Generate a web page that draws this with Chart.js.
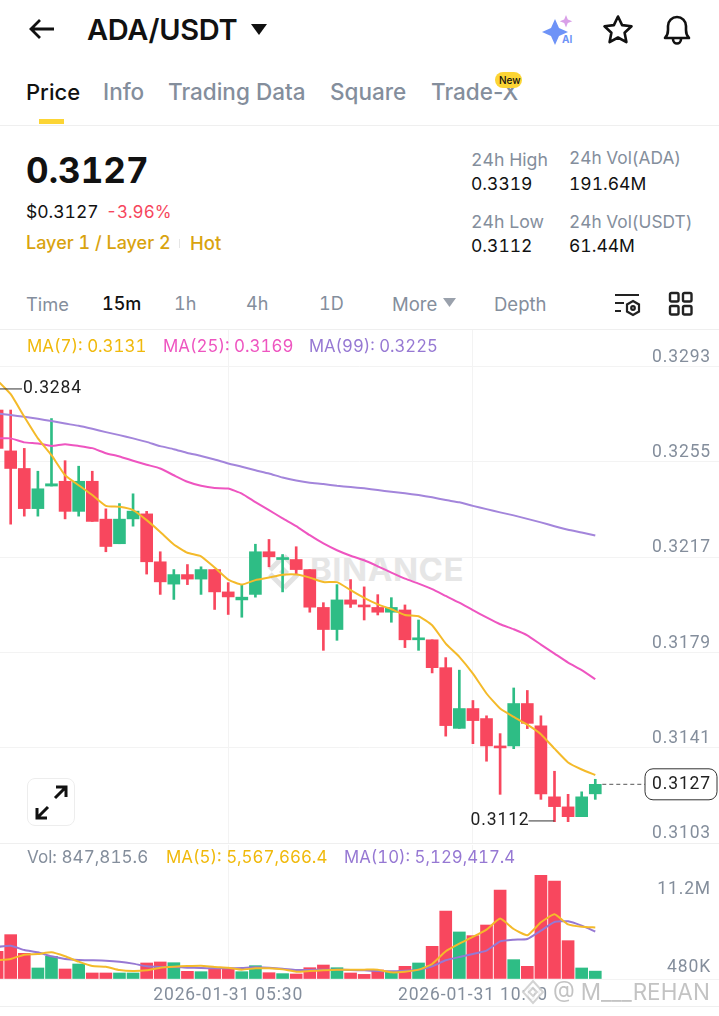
<!DOCTYPE html>
<html><head><meta charset="utf-8"><title>ADA/USDT</title>
<script src="https://cdn.jsdelivr.net/npm/chart.js@4"></script>
<style>
html,body{margin:0;padding:0;background:#fff;width:719px;height:1016px;overflow:hidden;font-family:Inter,"Noto Sans",sans-serif;font-variant-numeric:tabular-nums}
.t{position:absolute;white-space:nowrap;line-height:1;transform:translateY(-50%)}
.g{color:#848E9C}.k{color:#111}.y{color:#F0B90B}.p{color:#EE55C0}.v{color:#9678D3}
.rule{position:absolute;left:0;width:719px;height:1px;background:#EFEFEF}
canvas{display:block}
.cv{position:absolute;left:0}
svg{position:absolute}
</style></head><body>
<svg style="left:26px;top:14px" width="32" height="30" viewBox="0 0 32 30" fill="none" stroke="#111" stroke-width="2.8"><path d="M28 15H5M14 6l-9 9 9 9"/></svg>
<div class="t k" style="left:87px;top:29px;font-size:29px;font-weight:600;letter-spacing:-.3px">ADA/USDT</div>
<svg style="left:250px;top:23px" width="18" height="13"><path d="M1 1h16l-8 11z" fill="#111"/></svg>
<svg style="left:541px;top:14px" width="34" height="32" viewBox="0 0 34 32"><path d="M14 5l4 9 9 4-9 4-4 9-4-9-9-4 9-4z" fill="#6E93F7"/><path d="M25 1l1.800 4.500 4.500 1.800-4.500 1.800-1.800 4.500-1.800-4.500-4.500-1.800 4.500-1.800z" fill="#D9A0E8"/><text x="21" y="29" font-size="10" font-weight="700" fill="#6E93F7" font-family="Inter">AI</text></svg>
<svg style="left:602px;top:14px" width="32" height="31" viewBox="0 0 32 31" fill="none" stroke="#111" stroke-width="2.600" stroke-linejoin="round"><path d="M16 2.500l4.100 8.600 9.400 1.200-6.900 6.500 1.800 9.300-8.400-4.600-8.400 4.600 1.800-9.300-6.900-6.500 9.400-1.200z"/></svg>
<svg style="left:662px;top:14px" width="30" height="32" viewBox="0 0 30 32" fill="none" stroke="#111" stroke-width="2.600" stroke-linejoin="round"><path d="M3 24c2.500-2.500 3-4 3-8V12a9 9 0 0118 0v4c0 4 .5 5.500 3 8z"/><path d="M11 25c0 6 8 6 8 0"/></svg>

<div class="t k" style="left:26px;top:92px;font-size:22px;font-weight:500">Price</div>
<div class="t g" style="left:103px;top:92px;font-size:22.500px;font-weight:500">Info</div>
<div class="t g" style="left:168px;top:92px;font-size:22.500px;font-weight:500">Trading Data</div>
<div class="t g" style="left:330px;top:92px;font-size:22.500px;font-weight:500">Square</div>
<div class="t g" style="left:431px;top:92px;font-size:22.500px;font-weight:500;font-variant-numeric:normal;font-feature-settings:normal">Trade-X</div>
<div style="position:absolute;left:495px;top:72px;width:27px;height:16px;border-radius:8px;background:#FCD535"></div>
<div class="t k" style="left:499px;top:80px;font-size:10px;font-weight:500">New</div>
<div style="position:absolute;left:39px;top:119px;width:25px;height:5px;background:#FCD535"></div>
<div class="rule" style="top:125px"></div>

<div class="t k" style="left:26px;top:170px;font-size:35px;font-weight:700">0.3127</div>
<div class="t k" style="left:26px;top:212px;font-size:17.500px">$0.3127</div>
<div class="t" style="left:106px;top:212px;font-size:17px;color:#F6465D">-3.96%</div>
<div class="t" style="left:26px;top:243px;font-size:18px;font-weight:500;color:#D9A30F">Layer 1 / Layer 2</div>
<div style="position:absolute;left:179px;top:239px;width:1px;height:9px;background:#E6E6E6"></div>
<div class="t" style="left:190px;top:243px;font-size:18.500px;font-weight:500;color:#D9A30F">Hot</div>
<div class="t g" style="left:471px;top:160px;font-size:17.700px">24h High</div>
<div class="t k" style="left:471px;top:184px;font-size:17.500px">0.3319</div>
<div class="t g" style="left:569px;top:158px;font-size:17.300px">24h Vol(ADA)</div>
<div class="t k" style="left:569px;top:184px;font-size:17.500px">191.64M</div>
<div class="t g" style="left:471px;top:222px;font-size:17.700px">24h Low</div>
<div class="t k" style="left:471px;top:246px;font-size:17.500px">0.3112</div>
<div class="t g" style="left:569px;top:222px;font-size:17.300px">24h Vol(USDT)</div>
<div class="t k" style="left:569px;top:246px;font-size:17.500px">61.44M</div>

<div class="t g" style="left:26px;top:304px;font-size:18.300px">Time</div>
<div class="t k" style="left:102px;top:304px;font-size:18px;font-weight:500">15m</div>
<div class="t g" style="left:174px;top:304px;font-size:18px">1h</div>
<div class="t g" style="left:246px;top:304px;font-size:18px">4h</div>
<div class="t g" style="left:319px;top:304px;font-size:18px">1D</div>
<div class="t g" style="left:392px;top:304px;font-size:18.500px">More</div>
<svg style="left:443px;top:298px" width="14" height="10"><path d="M0 0h13l-6.500 9z" fill="#9AA1AC"/></svg>
<div class="t g" style="left:494px;top:304px;font-size:18.500px">Depth</div>
<svg style="left:614px;top:292px" width="28" height="26" viewBox="0 0 28 26" fill="none" stroke="#222" stroke-width="2.200"><path d="M1 3h24M1 11h9M1 19h6"/><path d="M19 9l6 3.500v7l-6 3.500-6-3.500v-7z"/><circle cx="19" cy="16" r="1.800"/></svg>
<svg style="left:668px;top:291px" width="26" height="26" viewBox="0 0 26 26" fill="none" stroke="#222" stroke-width="2.400"><rect x="2" y="2" width="8.500" height="8.500" rx="1.500"/><rect x="15" y="2" width="8.500" height="8.500" rx="1.500"/><rect x="2" y="15" width="8.500" height="8.500" rx="1.500"/><rect x="15" y="15" width="8.500" height="8.500" rx="1.500"/></svg>
<div class="rule" style="top:329px"></div>

<div class="t" style="left:310px;top:569px;font-size:33px;font-weight:700;color:#E6E6E6;letter-spacing:.5px">BINANCE</div>
<svg style="left:262px;top:550px" width="44" height="44" viewBox="0 0 44 44" fill="none" stroke="#E2E2E2" stroke-width="5"><path d="M22 6L8 20M22 6l14 14M22 38L8 24M22 38l14-14"/><path d="M22 17l5 5-5 5-5-5z" fill="#E2E2E2" stroke="none"/></svg>

<div class="cv" style="top:330px;width:719px;height:516px"><canvas id="priceChart" width="719" height="516"></canvas></div>
<div class="cv" style="top:845px;width:719px;height:161px"><canvas id="volChart" width="719" height="161"></canvas></div>

<div class="t y" style="left:27px;top:346px;font-size:16.900px">MA(7): 0.3131</div>
<div class="t p" style="left:163px;top:346px;font-size:16.900px">MA(25): 0.3169</div>
<div class="t v" style="left:309px;top:346px;font-size:16.700px">MA(99): 0.3225</div>

<div style="position:absolute;left:27px;top:778px;width:46px;height:46px;border:1.500px solid #EDEDED;border-radius:8px;background:#fff"></div>
<svg style="left:30px;top:781px" width="44" height="44" viewBox="0 0 44 44" fill="none" stroke="#111" stroke-width="3"><path d="M25 17l11-11M26 6h10v10M18 26L7 37M7 27v10h10"/></svg>

<div class="rule" style="top:843px"></div>
<div class="t g" style="left:27px;top:857px;font-size:17.100px">Vol: 847,815.6</div>
<div class="t y" style="left:166px;top:857px;font-size:16.900px">MA(5): 5,567,666.4</div>
<div class="t v" style="left:344px;top:857px;font-size:16.800px">MA(10): 5,129,417.4</div>
<div class="rule" style="top:1006px"></div>

<script>
const opens=[.32756,.32593,.32523,.32363,.32453,.32472,.32352,.32472,.32321,.32223,.32322,.32342,.32151,.32062,.32100,.32082,.32120,.32031,.31999,.32021,.32191,.32160,.32160,.32120,.31969,.31881,.31999,.31978,.31969,.31950,.31959,.31840,.31840,.31729,.31487,.31566,.31526,.31414,.31417,.31586,.31497,.31214,.31174,.31135,.31226];
const closes=[.32603,.32523,.32363,.32442,.32462,.32352,.32472,.32312,.32212,.32321,.32353,.32151,.32071,.32100,.32082,.32120,.32031,.32011,.32010,.32191,.32171,.32167,.32120,.31970,.31881,.31999,.31982,.31971,.31950,.31969,.31840,.31845,.31729,.31498,.31566,.31518,.31417,.31409,.31586,.31507,.31226,.31175,.31135,.31214,.31264];
const highs=[.32840,.32756,.32603,.32512,.32722,.32554,.32532,.32512,.32362,.32383,.32422,.32352,.32191,.32120,.32140,.32131,.32120,.32068,.32060,.32221,.32240,.32180,.32211,.32120,.31988,.32060,.32080,.32051,.32020,.32008,.31979,.31919,.31840,.31769,.31719,.31598,.31537,.31466,.31648,.31638,.31537,.31316,.31224,.31234,.31284];
const lows=[.32583,.32301,.32333,.32333,.32453,.32322,.32333,.32312,.32191,.32223,.32293,.32102,.32021,.32001,.32060,.32021,.31961,.31941,.31930,.32010,.32131,.32031,.32102,.31950,.31798,.31838,.31969,.31919,.31939,.31910,.31809,.31798,.31708,.31456,.31487,.31426,.31356,.31224,.31406,.31486,.31204,.31115,.31115,.31135,.31204];
const ma7=[.32875,.32819,.32729,.32643,.32576,.32496,.32456,.32417,.32374,.32370,.32357,.32317,.32270,.32220,.32187,.32173,.32128,.32080,.32060,.32078,.32088,.32099,.32100,.32088,.32070,.32070,.32038,.32007,.31981,.31962,.31939,.31934,.31898,.31825,.31772,.31705,.31626,.31566,.31533,.31502,.31464,.31406,.31351,.31323,.31301];
const ma25=[.32643,.32643,.32627,.32623,.32613,.32620,.32613,.32604,.32584,.32571,.32554,.32538,.32523,.32496,.32470,.32454,.32445,.32443,.32423,.32389,.32357,.32324,.32293,.32257,.32224,.32197,.32175,.32157,.32133,.32108,.32084,.32064,.32042,.32015,.31988,.31958,.31929,.31902,.31882,.31858,.31821,.31785,.31749,.31719,.31683];
const ma99=[.32742,.32736,.32729,.32721,.32712,.32702,.32693,.32681,.32668,.32656,.32643,.32629,.32612,.32600,.32585,.32573,.32559,.32543,.32530,.32516,.32503,.32487,.32475,.32466,.32461,.32454,.32449,.32444,.32437,.32430,.32424,.32417,.32408,.32397,.32388,.32374,.32361,.32348,.32336,.32322,.32308,.32293,.32279,.32268,.32256];
const volumes=[2.99,4.79,2.77,1.19,2.45,1.08,1.62,.65,.65,.65,.65,1.73,1.84,1.76,.83,.79,1.19,1.12,.79,1.44,.68,.58,.54,1.22,1.51,1.22,.65,.5,.97,.76,1.37,1.73,3.53,7.34,5.08,4.68,5.83,9.61,2.09,1.37,11.2,10.58,4.14,1.19,.85];
const volMa5=[2.02,2.16,2.63,2.70,2.88,2.45,1.87,1.40,1.33,.97,.86,.94,1.22,1.33,1.40,1.44,1.30,1.22,1.01,1.15,1.15,1.04,.79,.86,.94,1.01,1.01,1.01,1.01,.72,.79,1.01,1.62,2.99,3.82,4.54,5.33,6.52,5.40,4.72,6.12,6.98,5.90,5.65,5.57];
const volMa10=[3.46,3.60,3.13,2.88,2.45,2.16,2.05,2.02,1.98,1.87,1.66,1.37,1.30,1.30,1.22,1.19,1.15,1.15,1.19,1.26,1.22,1.12,.97,.97,1.01,1.01,.97,.94,.86,.83,.90,1.01,1.37,2.02,2.38,2.70,3.06,4.07,4.25,4.32,5.22,6.16,6.23,5.76,5.13];
const priceTicks=[.3293,.3255,.3217,.3179,.3141,.3103];
const volTicks=[11.2,.48];
const volTickLabels=['11.2M','480K'];
const timeTicks=[17,35];
const timeLabels=['2026-01-31 05:30','2026-01-31 10:00'];
const highMark=.3284, lowMark=.3112, lowMarkIndex=41, lastPrice=.31264, lastLabel='0.3127';

const RED='#F8475E',GREEN='#2EBD85',PINK='#EE55C0',PUR='#9678D3',GRID='#F3F3F3',AXIS='#848E9C';
const NUMFONT='Roboto';
const idx=opens.map((_,i)=>i);
const isUp=idx.map(i=>closes[i]>=opens[i]);
const barCol=isUp.map(u=>u?GREEN:RED);
const XMIN=.2133,XMAX=53.1;
const line=(arr,c,w)=>({type:'line',data:idx.map(i=>({x:i,y:arr[i]})),borderColor:c,borderWidth:w||2,pointRadius:0,tension:.15,order:0});
const xAxis=(h,show)=>({type:'linear',offset:false,min:XMIN,max:XMAX,
  afterBuildTicks:s=>{s.ticks=timeTicks.map(v=>({value:v}))},
  afterFit:s=>{s.height=h;s.paddingLeft=0;s.paddingRight=0},
  grid:{color:GRID,drawTicks:false,lineWidth:1,offset:false},border:{display:false},
  ticks:{display:show,autoSkip:false,maxRotation:0,padding:6,color:AXIS,font:{family:NUMFONT,size:17.5},
    callback:v=>timeLabels[timeTicks.indexOf(v)]||''}});
Chart.defaults.animation=false;
Chart.defaults.responsive=false;
const spaced={id:'spaced',beforeDraw(c){c.ctx.letterSpacing='0.85px'}};
const priceNotes={id:'priceNotes',afterDatasetsDraw(c){
  const g=c.ctx,x=c.scales.x,y=c.scales.y;
  g.save();g.font='17.500px '+NUMFONT;g.textBaseline='middle';
  const yh=y.getPixelForValue(highMark);
  g.strokeStyle='#333';g.lineWidth=1;g.beginPath();g.moveTo(0,yh);g.lineTo(22,yh);g.stroke();
  g.fillStyle='#222';g.textAlign='left';g.fillText(highMark.toFixed(4),23,yh);
  const xl=x.getPixelForValue(lowMarkIndex),yl=y.getPixelForValue(lowMark)+.5;
  g.beginPath();g.moveTo(xl,yl);g.lineTo(xl-26,yl);g.stroke();
  g.textAlign='right';g.fillText(lowMark.toFixed(4),xl-25,yl);
  const yp=y.getPixelForValue(lastPrice);
  g.setLineDash([4,3]);g.strokeStyle='#555';g.beginPath();g.moveTo(x.getPixelForValue(44)+7,yp);g.lineTo(645,yp);g.stroke();g.setLineDash([]);
  g.beginPath();g.roundRect(645,yp-15.5,72,31,8);g.fillStyle='#fff';g.fill();g.strokeStyle='#333';g.stroke();
  g.fillStyle='#222';g.textAlign='center';g.fillText(lastLabel,681.500,yp+.5);
  g.restore();
}};
new Chart(document.getElementById('priceChart'),{type:'bar',plugins:[spaced,priceNotes],
 data:{datasets:[
  line(ma7,'#F4BA2A',2),line(ma25,PINK,2),line(ma99,'#A385DB',2),
  {data:idx.map(i=>({x:i,y:[lows[i],highs[i]]})),backgroundColor:barCol,barThickness:2,grouped:false,order:2},
  {data:idx.map(i=>({x:i,y:[opens[i],closes[i]]})),backgroundColor:barCol,barThickness:12,grouped:false,order:1,minBarLength:2}
 ]},
 options:{maintainAspectRatio:false,layout:{padding:{left:0,right:0,top:0,bottom:3}},
  plugins:{legend:{display:false},tooltip:{enabled:false}},
  scales:{x:xAxis(0,false),
   y:{position:'right',min:.3103,max:.33075,
    afterBuildTicks:s=>{s.ticks=priceTicks.map(v=>({value:v}))},
    afterFit:s=>{s.width=0;s.paddingTop=0;s.paddingBottom=0},
    grid:{color:GRID,drawTicks:false},border:{display:false},
    ticks:{mirror:true,padding:-8,labelOffset:-9,color:AXIS,font:{family:NUMFONT,size:17.5},callback:v=>v.toFixed(4)}}}}});
const volLabels={id:'volLabels',afterDraw(c){
  const g=c.ctx,y=c.scales.y;g.save();g.font='17.500px '+NUMFONT;g.fillStyle=AXIS;g.textAlign='right';g.textBaseline='middle';
  const off=[14,-7];
  volTicks.forEach((v,i)=>g.fillText(volTickLabels[i],711,y.getPixelForValue(v)+off[i]));g.restore();
}};
new Chart(document.getElementById('volChart'),{type:'bar',plugins:[spaced,volLabels],
 data:{datasets:[
  line(volMa5,'#F4BA2A',2),line(volMa10,PUR,2),
  {data:idx.map(i=>({x:i,y:volumes[i]})),backgroundColor:barCol,barThickness:12,order:1}
 ]},
 options:{maintainAspectRatio:false,layout:{padding:0},
  plugins:{legend:{display:false},tooltip:{enabled:false}},
  scales:{x:xAxis(27,true),
   y:{min:0,max:14.47,position:'right',afterBuildTicks:s=>{s.ticks=[{value:0}]},afterFit:s=>{s.width=0;s.paddingTop=0;s.paddingBottom=0},
    grid:{color:GRID,drawTicks:false},border:{display:false},ticks:{display:false}}}}});
</script>
<svg style="left:519px;top:978px" width="28" height="28" viewBox="0 0 28 28" fill="#fff" stroke="#CFCFCF" stroke-width="2" opacity=".9"><path d="M14 3l10 11-10 11L4 14z"/><path d="M14 10l4 4-4 4-4-4z"/></svg>
<div class="t" style="left:553px;top:992px;font-size:22.500px;color:#BDBDBD;opacity:.9">@ M___REHAN</div>
</body></html>
